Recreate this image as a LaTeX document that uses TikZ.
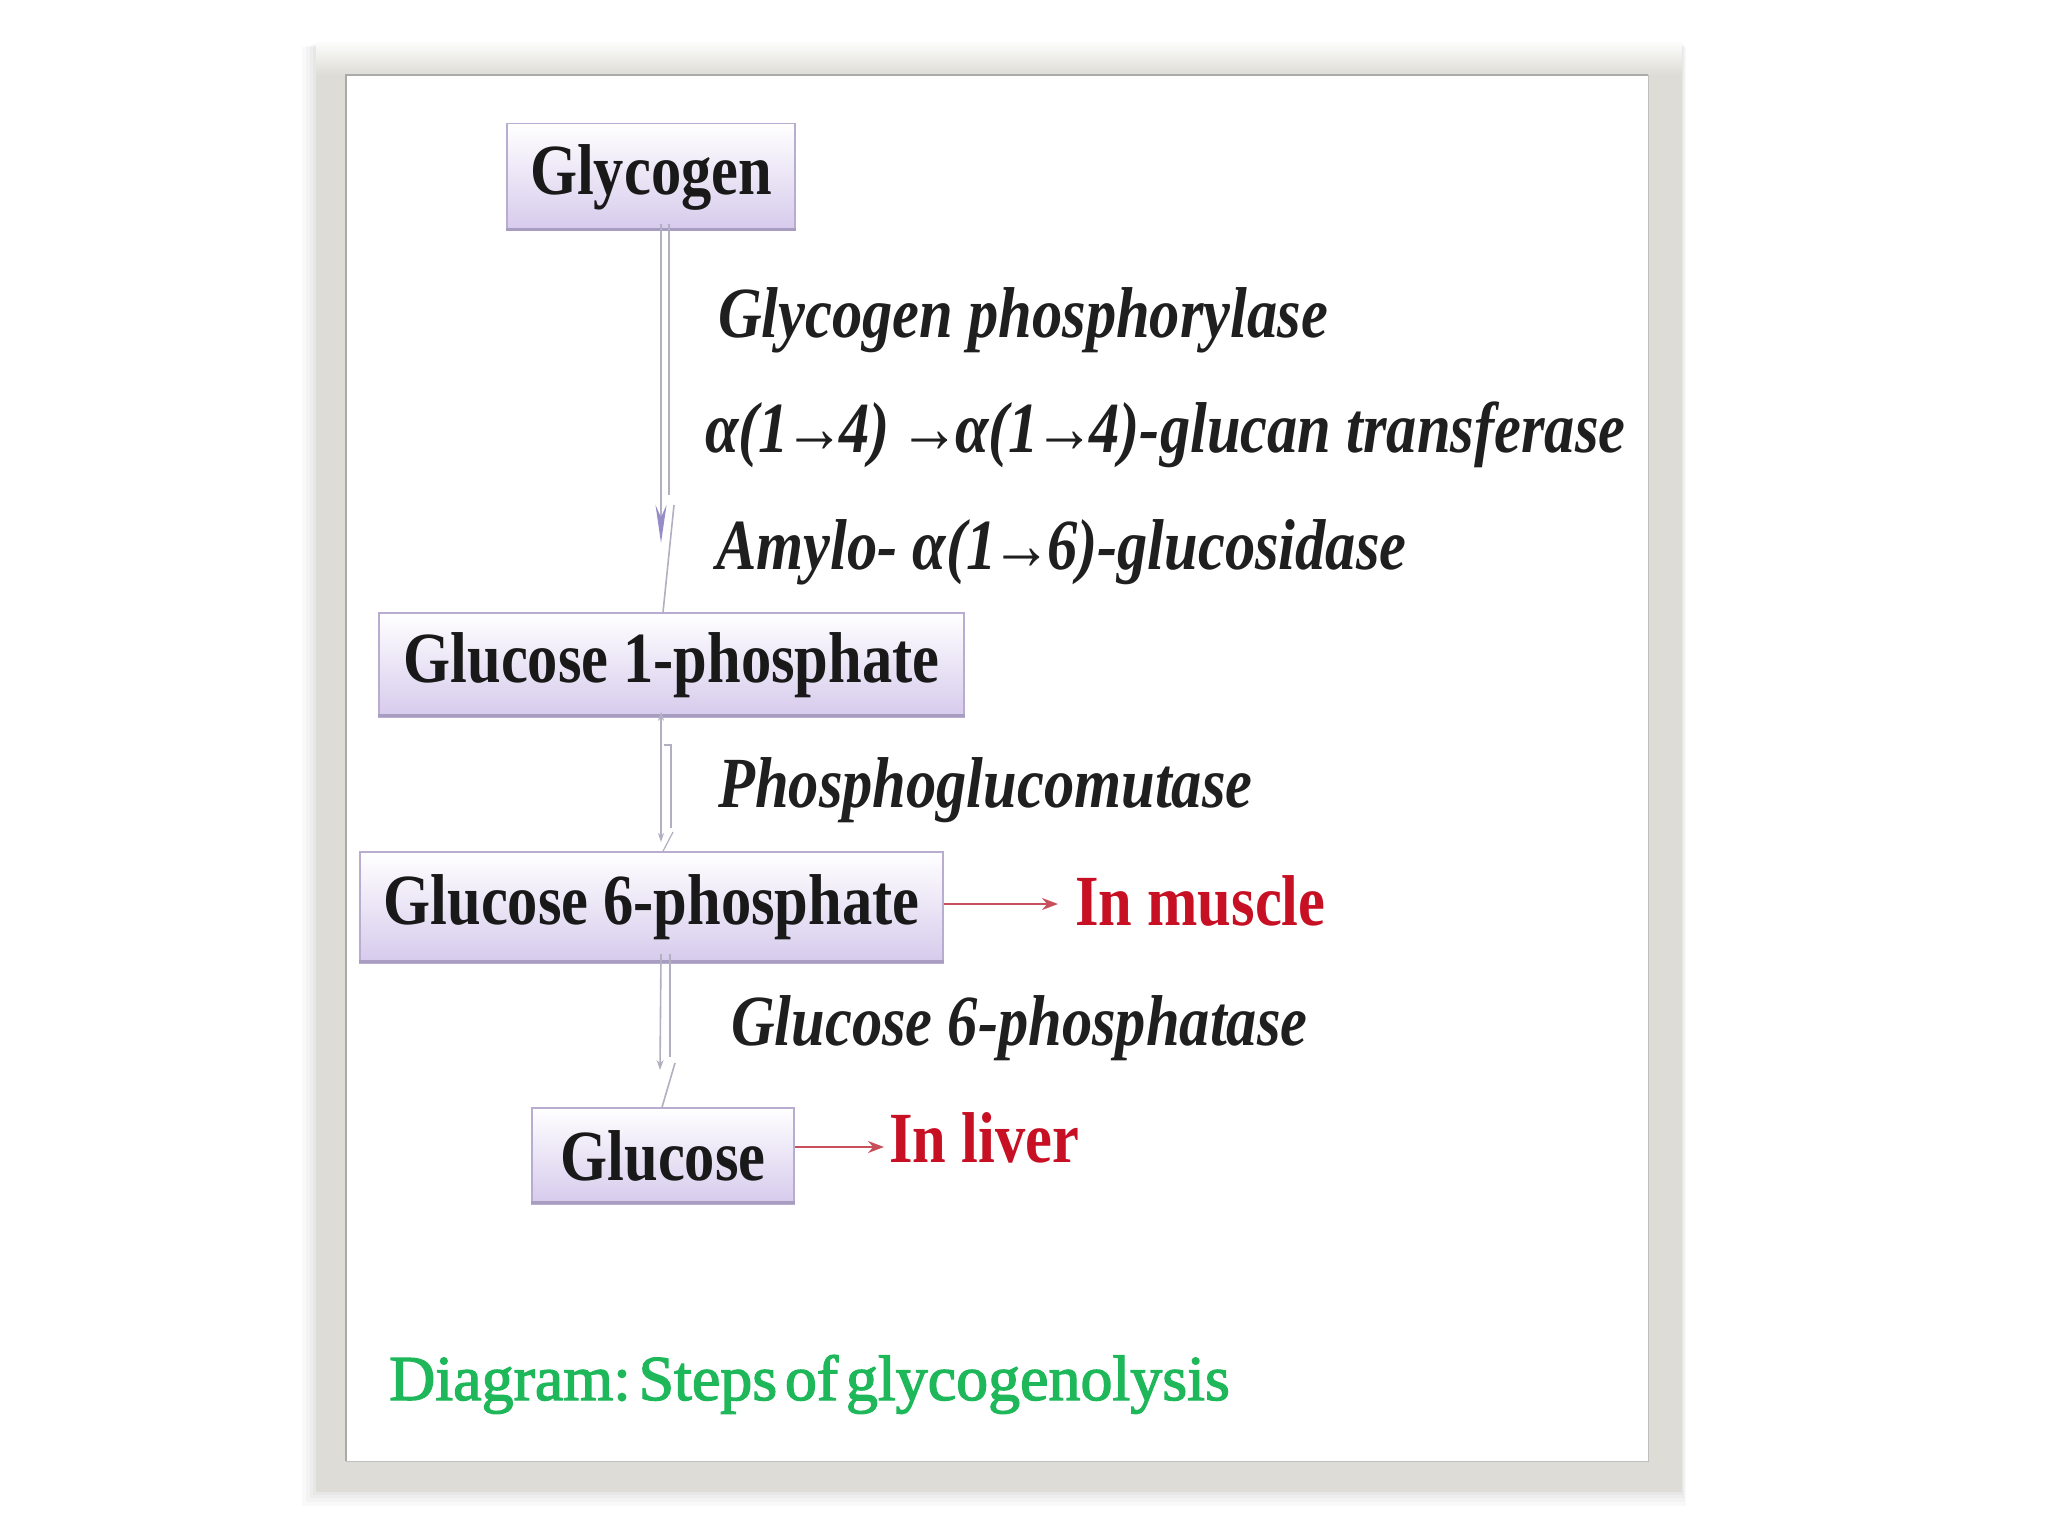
\documentclass[tikz,border=0pt]{standalone}
\usepackage{fontspec}
\setmainfont{Liberation Serif}
\newfontfamily\cond[FakeStretch=0.84]{Liberation Serif}
\newfontfamily\capfont[FakeStretch=1.0,FakeBold=2]{Liberation Serif}
\usetikzlibrary{arrows.meta}
\definecolor{framegray}{RGB}{222,220,214}
\definecolor{frameedge}{RGB}{170,170,168}
\definecolor{lav}{RGB}{214,202,236}
\definecolor{lavedge}{RGB}{184,172,208}
\definecolor{lavshadow}{RGB}{168,156,192}
\definecolor{connc}{RGB}{176,176,192}
\definecolor{arrlav}{RGB}{150,140,200}
\definecolor{redtxt}{RGB}{200,16,36}
\definecolor{redline}{RGB}{200,80,90}
\definecolor{greentxt}{RGB}{30,184,90}
\newcommand\ar{\kern-.07em→\kern-.07em}
\tikzset{
  pbox/.style={draw=lavedge, line width=1.5pt, top color=white, bottom color=lav,
    inner sep=0pt, font=\cond\bfseries\fontsize{72}{80}\selectfont, text=black!90},
  lab/.style={anchor=base west, inner sep=0pt, font=\cond\bfseries\itshape\fontsize{72}{80}\selectfont, text=black!88},
  side/.style={anchor=base west, inner sep=0pt, font=\cond\bfseries\fontsize{72}{80}\selectfont, text=redtxt},
  conn/.style={draw=connc, line width=1.6pt},
  redarr/.style={draw=redline, line width=2pt, -{Stealth[length=16pt,width=12pt]}},
}
\begin{document}
\begin{tikzpicture}[x=1pt,y=-1pt]
\useasboundingbox (0,0) rectangle (2048,1536);
\fill[white] (0,0) rectangle (2048,1536);
% frame with soft shadow
\foreach \i in {14,10,6,3}{
  \fill[black,opacity=0.025] (316-\i,43+\i*0.3) rectangle (1682+\i*0.3,1492+\i);
}
\fill[framegray] (316,43) rectangle (1682,1492);
\fill[top color=white!90!framegray, bottom color=framegray] (316,43) rectangle (1682,75);
\fill[white] (346,75) rectangle (1648,1461);
\draw[frameedge, line width=1.6pt] (346,1461) -- (346,75) -- (1648,75);
\draw[black!25, line width=1pt] (346,1461) -- (1648,1461) -- (1648,75);

% boxes
\node[pbox, minimum width=288pt, minimum height=107pt] (glyc) at (651,177) {Glycogen};
\node[pbox, minimum width=585pt, minimum height=104pt] (g1p) at (671.5,665) {Glucose 1-phosphate};
\node[pbox, minimum width=583pt, minimum height=111pt] (g6p) at (651.5,907.5) {Glucose 6-phosphate};
\node[pbox, minimum width=262pt, minimum height=96pt] (gluc) at (663,1156) {Glucose};
\foreach \b in {glyc,g1p,g6p,gluc}{
  \draw[lavshadow, line width=3pt] ([yshift=2pt]\b.south west) -- ([yshift=2pt]\b.south east);
}

% columns for connectors
\coordinate (colL) at (661,0);
\coordinate (colR) at (669,0);

% Glycogen -> Glucose 1-phosphate
\coordinate (t1) at (661,543);
\draw[conn, -{Stealth[length=38pt,width=11pt,fill=arrlav,color=arrlav]}] ([yshift=7pt]glyc.south -| colL) -- (t1);
\draw[conn] ([yshift=7pt]glyc.south -| colR) -- (669,495);
\draw[conn] (674,505) -- (g1p.north -| 663,0);

% Glucose 1-phosphate <-> Glucose 6-phosphate
\draw[conn, line width=1.2pt, {Stealth[length=9pt,width=6pt]}-{Stealth[length=9pt,width=6pt]}] ([yshift=6pt]g1p.south -| colL) -- (661,842);
\draw[conn, line width=1.2pt] (664,745) -- (671,745) -- (671,828);
\draw[conn, line width=1.2pt] (673,832) -- (g6p.north -| 663,0);

% Glucose 6-phosphate -> Glucose
\draw[conn, -{Stealth[length=10pt,width=7pt]}] ([yshift=10pt]g6p.south -| colL) -- (660,1070);
\draw[conn] ([yshift=10pt]g6p.south -| 670,0) -- (670,1057);
\draw[conn] (675,1063) -- (gluc.north -| 662,0);

% enzymes
\node[lab] (e1) at (718,337) {Glycogen phosphorylase};
\node[lab] (e2) at (705,452) {α(1\ar4) \ar α(1\ar4)-glucan transferase};
\node[lab] (e3) at (716,569) {Amylo- α(1\ar6)-glucosidase};
\node[lab] (e4) at (718,807) {Phosphoglucomutase};
\node[lab] (e5) at (731,1045) {Glucose 6-phosphatase};

% side outputs
\node[side] (mus) at (1075,925) {In muscle};
\node[side] (liv) at (889,1162) {In liver};
\draw[redarr] (g6p.east |- 0,904) -- (1058,904);
\draw[redarr] (gluc.east |- 0,1147) -- (884,1147);

% caption
\node[anchor=base west, inner sep=0pt, font=\capfont\fontsize{64}{74}\selectfont, text=greentxt] (cap) at (389,1400) {Diagram:\kern.12em Steps\kern.12em of\kern.12em glycogenolysis};
\end{tikzpicture}
\end{document}
